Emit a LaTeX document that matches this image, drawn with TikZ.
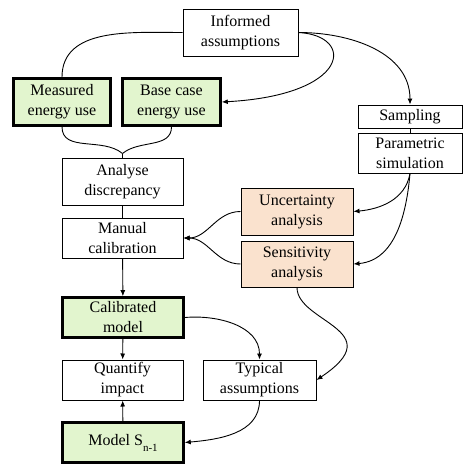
\documentclass[tikz,border=0pt]{standalone}
\usepackage{fontspec}
\setmainfont{Liberation Serif}
\usetikzlibrary{arrows.meta,positioning}
\definecolor{keygreen}{RGB}{226,245,206}
\definecolor{peach}{RGB}{250,226,206}
\begin{document}
\begin{tikzpicture}[x=1pt,y=-1pt,
    box/.style={draw,line width=1pt,fill=white,align=center,inner sep=0pt,
      font=\fontsize{16}{20}\selectfont},
    keybox/.style={box,line width=2.6pt,fill=keygreen},
    peachbox/.style={box,fill=peach}]
      \useasboundingbox (0,0) rectangle (474,474);
      \path
        (240.5,32.5) node[box,minimum width=115pt,minimum height=47pt] (inf){Informed\\assumptions}
        (62,102) node[keybox,minimum width=97pt,minimum height=47pt] (meas){Measured\\energy use}
        (171.5,102) node[keybox,minimum width=98pt,minimum height=47pt] (base){Base case\\energy use}
        (410,116.5) node[box,minimum width=104pt,minimum height=23pt] (samp){Sampling}
        (410,153) node[box,minimum width=104pt,minimum height=40pt] (param){Parametric\\simulation}
        (122.5,181.5) node[box,minimum width=121pt,minimum height=47pt] (anal){Analyse\\discrepancy}
        (122.5,238) node[box,minimum width=121pt,minimum height=40pt] (manual){Manual\\calibration}
        (297,211.5) node[peachbox,minimum width=112pt,minimum height=47pt] (unc){Uncertainty\\analysis}
        (297,264) node[peachbox,minimum width=112pt,minimum height=46pt] (sens){Sensitivity\\analysis}
        (123,317.5) node[keybox,minimum width=121pt,minimum height=40pt] (calib){Calibrated\\model}
        (122.5,380) node[box,minimum width=121pt,minimum height=40pt] (quant){Quantify\\impact}
        (259.5,380) node[box,minimum width=113pt,minimum height=40pt] (typ){Typical\\assumptions}
        (123,442.5) node[keybox,minimum width=121pt,minimum height=40pt] (model){Model S\raisebox{-6pt}{\fontsize{11}{11}\selectfont n-1}};
      \coordinate[above=4pt of anal] (mrg);
      \begin{scope}[line width=0.9pt]
        \draw (inf.west) to[out=180,in=90] (meas.north);
        \draw (samp) -- (param);
        \draw (meas.south) to[out=-90,in=140] (mrg);
        \draw (base.south) to[out=-90,in=40] (mrg);
        \draw (mrg) -- (anal.north);
        \draw (anal) -- (manual);
      \end{scope}
      \begin{scope}[line width=0.9pt,-{Latex[length=6pt,width=5pt]}]
        \draw (inf.east) .. controls +(57,3) and +(129,-7) .. (base.east);
        \draw (inf.east) to[out=0,in=90] (samp.north);
        \draw (manual) -- (calib);
        \draw (unc.west) to[out=180,in=0] (manual.east);
        \draw (sens.west) to[out=180,in=0] (manual.east);
        \draw (param.south) to[out=-100,in=5] (unc.east);
        \draw (param.south) to[out=-95,in=5] (sens.east);
        \draw (sens.south) .. controls +(0,35) and +(75,-50) .. (typ.east);
        \draw (calib.east) to[out=5,in=90] (typ.north);
        \draw (calib) -- (quant);
        \draw (model) -- (quant);
        \draw (typ.south) to[out=-90,in=5] (model.east);
      \end{scope}
    \end{tikzpicture}
\end{document}
